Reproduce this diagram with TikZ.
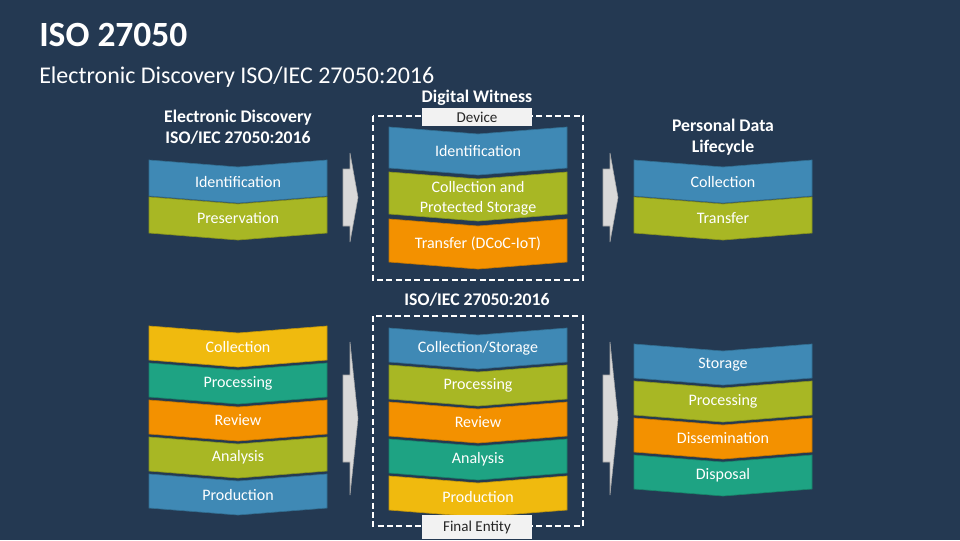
\documentclass[tikz,border=0pt]{standalone}
\usepackage{fontspec}
\setmainfont{Carlito}
\usetikzlibrary{positioning}

\definecolor{navy}{HTML}{243952}
\definecolor{stepblue}{HTML}{3F89B5}
\definecolor{steplime}{HTML}{A8B724}
\definecolor{steporange}{HTML}{F39100}
\definecolor{stepteal}{HTML}{1EA383}
\definecolor{stepyellow}{HTML}{F0BA0E}
\definecolor{arrowgray}{HTML}{D9D9D9}
\definecolor{tagfill}{HTML}{F2F2F2}

% chevron band: [text shift], name, left x, top y, side height, colour, text
\newcommand{\band}[7][0]{%
  \filldraw[fill=#6, draw=#6!80!black, line width=0.5pt]
    (#3,#4) -- ++(89,7) -- ++(89,-7) -- ++(0,#5) -- ++(-89,7) -- ++(-89,-7) -- cycle;
  \node[bandtext] (#2) at (#3+89,#4+#5/2+3.5+#1) {#7};
}
% grey block arrow: left x, top y, bottom y, shaft inset
\newcommand{\blockarrow}[4]{%
  \filldraw[flowarrow] (#1,#2+#4) -- (#1+7,#2+#4) -- (#1+7,#2) -- (#1+15,{(#2+#3)/2})
    -- (#1+7,#3) -- (#1+7,#3-#4) -- (#1,#3-#4) -- cycle;
}

\begin{document}
\begin{tikzpicture}[
    x=0.75pt, y=-0.75pt,
    bandtext/.style={text=white, font=\fontsize{12}{14.6}\selectfont, align=center, inner sep=0pt},
    head/.style={text=white, font=\bfseries\fontsize{13.3}{15.8}\selectfont, align=center, inner sep=0pt},
    tag/.style={fill=tagfill, text=black!85, font=\fontsize{11.3}{13}\selectfont, minimum width=82.5pt, inner sep=0pt},
    frame/.style={draw=white, line width=0.8pt, dash pattern=on 4.5pt off 2.5pt},
    flowarrow/.style={fill=arrowgray, draw=black!35, line width=0.4pt}
  ]
    \fill[navy] (0,0) rectangle (960,540);

    % titles
    \node[anchor=base west, inner sep=0pt, text=white, font=\bfseries\fontsize{26.6}{30}\selectfont] (title) at (39,46) {ISO 27050};
    \node[anchor=base west, inner sep=0pt, text=white, font=\fontsize{18}{21}\selectfont] (subtitle) at (39,83) {Electronic Discovery ISO/IEC 27050:2016};

    % top row
    \node[head] (edHead) at (238,127.5) {Electronic Discovery\\ISO/IEC 27050:2016};
    \band{edIdent}{149}{160}{36}{stepblue}{Identification}
    \band{edPres}{149}{197}{36}{steplime}{Preservation}

    \draw[frame] (373,116) rectangle (583,280);
    \node[head, anchor=base] (dwHead) at (477,102) {Digital Witness};
    \node[tag, minimum height=13.5pt] (device) at (477,117) {Device};
    \band{dwIdent}{389}{127}{41}{stepblue}{Identification}
    \band[2]{dwColl}{389}{172}{42}{steplime}{Collection and\\Protected Storage}
    \band{dwTrans}{389}{219}{43}{steporange}{Transfer (DCoC-IoT)}

    \node[head] (pdHead) at (723,137) {Personal Data\\Lifecycle};
    \band{pdColl}{634}{160}{36}{stepblue}{Collection}
    \band{pdTrans}{634}{197}{36}{steplime}{Transfer}

    \blockarrow{343}{153}{242}{16}
    \blockarrow{603}{153}{242}{16}

    % bottom row
    \band{edColl}{149}{326}{34}{stepyellow}{Collection}
    \band{edProc}{149}{363}{34}{stepteal}{Processing}
    \band{edRev}{149}{400}{34}{steporange}{Review}
    \band{edAna}{149}{437}{34}{steplime}{Analysis}
    \band{edProd}{149}{474}{34}{stepblue}{Production}

    \draw[frame] (373,316) rectangle (583,526);
    \node[head, anchor=base] (isoHead) at (477,305) {ISO/IEC 27050:2016};
    \band{isoColl}{389}{328}{34}{stepblue}{Collection/Storage}
    \band{isoProc}{389}{365}{34}{steplime}{Processing}
    \band{isoRev}{389}{402}{34}{steporange}{Review}
    \band{isoAna}{389}{439}{34}{stepteal}{Analysis}
    \band{isoProd}{389}{476}{34}{stepyellow}{Production}
    \node[tag, minimum height=18pt] (final) at (477,527) {Final Entity};

    \band{pdStor}{634}{344}{34}{stepblue}{Storage}
    \band{pdProc}{634}{381}{34}{steplime}{Processing}
    \band{pdDiss}{634}{418}{34}{steporange}{Dissemination}
    \band{pdDisp}{634}{455}{34}{stepteal}{Disposal}

    \blockarrow{343}{342}{495}{33}
    \blockarrow{603}{342}{495}{33}
  \end{tikzpicture}
\end{document}
